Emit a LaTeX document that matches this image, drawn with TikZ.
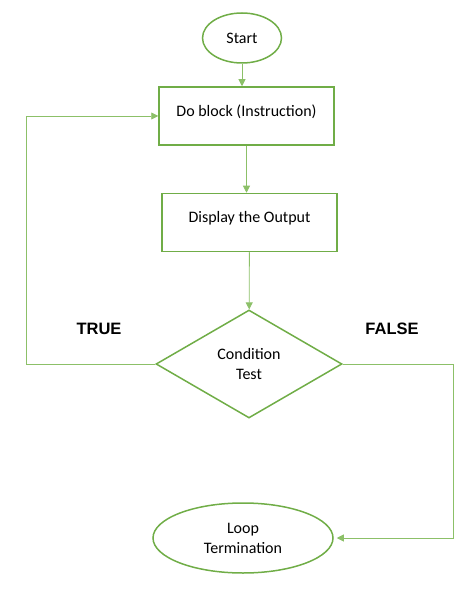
\documentclass[tikz,border=0pt]{standalone}
\usepackage{fontspec}
\setmainfont{Carlito}
\newfontfamily\labelfont{Liberation Sans}
\usepackage{tikz}
\usetikzlibrary{arrows.meta,positioning,shapes.geometric}
\definecolor{flowgreen}{HTML}{70AD47}
\definecolor{linegreen}{HTML}{8CC068}
\tikzset{terminal/.style={ellipse, draw=flowgreen, line width=1.5pt, inner sep=0pt, align=center},
stepbox/.style={rectangle, draw=flowgreen, line width=1.5pt, minimum width=175, minimum height=58, text depth=11pt},
decision/.style={diamond, draw=flowgreen, line width=1.5pt, inner sep=0pt, minimum width=186, minimum height=108, align=center},
flow/.style={draw=linegreen, line width=0.8pt, -{Triangle[length=7pt,width=7pt]}},
branch/.style={font=\labelfont\bfseries\fontsize{16.5}{18}\selectfont}}

\begin{document}
\begin{tikzpicture}[x=1pt, y=-1pt, font=\fontsize{16}{20}\selectfont]

\useasboundingbox (0,0) rectangle (474,593);

\node[terminal, minimum width=79, minimum height=50] (start) at (242,38) {Start};
\node[stepbox] (doblock) at (246.5,116) {Do block (Instruction)};
\node[stepbox] (display) at (249.5,222.5) {Display the Output};
\node[decision] (cond) at (249,364) {Condition\\Test};
\node[terminal, minimum width=180, minimum height=70] (loopend) at (243,538) {Loop\\Termination};

\node[branch] (true) at (99,329) {TRUE};
\node[branch] (false) at (392,329) {FALSE};

\coordinate (backx) at (26,0);
\coordinate (outx) at (453,0);

\draw[flow] (start) -- (start |- doblock.north);
\draw[flow] (doblock.south) -- (doblock.south |- display.north);
\draw[flow] (display) -- (cond);
\draw[flow] (cond.west) -- (cond.west -| backx) |- (doblock.west);
\draw[flow, shorten >=3pt] (cond.east) -- (cond.east -| outx) |- (loopend.east);

\end{tikzpicture}
\end{document}
